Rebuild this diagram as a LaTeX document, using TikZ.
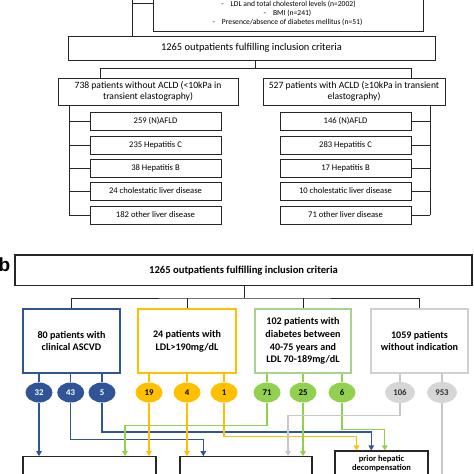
\documentclass[tikz,border=0pt]{standalone}
\usepackage{fontspec}
\setmainfont{Carlito}
\newfontfamily\blab{Liberation Sans}
\usetikzlibrary{arrows.meta,shapes.geometric}
\definecolor{cblue}{HTML}{2F5597}
\definecolor{cyel}{HTML}{FFC000}
\definecolor{cgreen}{HTML}{92D050}
\definecolor{cgreenbox}{HTML}{A9D18E}
\definecolor{cgray}{HTML}{C8C8C8}
\definecolor{cgrayfill}{HTML}{D6D6D6}
\definecolor{cgraybox}{HTML}{D0D0D0}
\tikzset{
  abox/.style={draw=black!85, line width=0.9pt, inner sep=0pt, align=center,
    font=\fontsize{8.6}{11.3}\selectfont},
  aline/.style={draw=black!85, line width=0.9pt},
  bbox/.style={line width=1.2pt, inner sep=0pt, align=center,
    font=\bfseries\fontsize{10.1}{12.8}\selectfont},
  num/.style={ellipse, minimum width=27pt, minimum height=20pt, inner sep=0pt,
    font=\bfseries\fontsize{8.8}{9}\selectfont},
  arr/.style={line width=1.1pt, -{Triangle[length=5pt,width=5.5pt]}},
  bl/.style={line width=1.1pt}
}
\begin{document}
\begin{tikzpicture}[x=1pt,y=-1pt]
\useasboundingbox (0,0) rectangle (474,474);
\clip (0,0) rectangle (474,474);
% ---------------- part a ----------------
\node[abox, minimum width=270pt, minimum height=60pt] (excl) at (288.3,1) {};
\node[font=\fontsize{7.6}{8}\selectfont] (t1) at (288.5,4.5) {-\hspace{7pt}LDL and total cholesterol levels (n=2002)};
\node[font=\fontsize{7.6}{8}\selectfont] (t2) at (287.5,13.3) {-\hspace{7pt}BMI (n=241)};
\node[font=\fontsize{7.6}{8}\selectfont] (t3) at (287.5,22.3) {-\hspace{7pt}Presence/absence of diabetes mellitus (n=51)};
\node[abox, minimum width=367pt, minimum height=24pt, font=\fontsize{10.4}{12}\selectfont] (inc) at (251.5,48) {1265 outpatients fulfilling inclusion criteria};
\coordinate (topspine) at (132.7,-5);
\draw[aline] (topspine) -- (topspine |- inc.north);
\draw[aline] (132.7,3) -- (132.7,3 -| excl.west);
\node[abox, minimum width=180pt, minimum height=27pt, font=\fontsize{9.6}{11.3}\selectfont] (noacld) at (148,91.5) {738 patients without ACLD (<10kPa in\\transient elastography)};
\node[abox, minimum width=182pt, minimum height=27pt, font=\fontsize{9.6}{11.3}\selectfont] (acld) at (354,91.5) {527 patients with ACLD (≥10kPa in transient\\elastography)};
\coordinate (split) at (255,68);
\draw[aline] (split |- inc.south) -- (split);
\draw[aline] (100,68 |- noacld.north) |- (411,68) -- (411,68 |- acld.north);
% left list
\foreach \n/\y/\t in {l1/121.3/259 (N)AFLD, l2/145/235 Hepatitis C, l3/168/38 Hepatitis B, l4/191/24 cholestatic liver disease, l5/215/182 other liver disease}{
  \node[abox, minimum width=131pt, minimum height=18pt] (\n) at (155.5,\y) {\t};
  \draw[aline] (69,\y) -- (\n.west);
}
\draw[aline] (69,0 |- noacld.south) -- (69,215);
% right list
\foreach \n/\y/\t in {r1/121.3/146 (N)AFLD, r2/145/283 Hepatitis C, r3/168/17 Hepatitis B, r4/191/10 cholestatic liver disease, r5/215/71 other liver disease}{
  \node[abox, minimum width=131pt, minimum height=18pt] (\n) at (345.5,\y) {\t};
  \draw[aline] (\n.east) -- (430,\y);
}
\draw[aline] (430,0 |- acld.south) -- (430,215);
% ---------------- part b ----------------
\node[font=\blab\bfseries\fontsize{19}{20}\selectfont, inner sep=0pt] (blabel) at (4.5,265) {b};
\node[bbox, draw=black!85, minimum width=457pt, minimum height=30.7pt, font=\bfseries\fontsize{10.6}{12}\selectfont] (incb) at (243.5,270.3) {1265 outpatients fulfilling inclusion criteria};
\node[bbox, draw=cblue, minimum width=97pt, minimum height=64pt] (bx1) at (71.5,341) {80 patients with\\clinical ASCVD};
\node[bbox, draw=cyel, minimum width=98pt, minimum height=64pt] (bx2) at (187,341) {24 patients with\\LDL>190mg/dL};
\node[bbox, draw=cgreenbox, minimum width=96pt, minimum height=64pt] (bx3) at (303,341) {102 patients with\\diabetes between\\40-75 years and\\LDL 70-189mg/dL};
\node[bbox, draw=cgraybox, minimum width=97pt, minimum height=64pt] (bx4) at (419.5,341) {1059 patients\\without indication};
\coordinate (splitb) at (244,298);
\draw[aline] (incb.south -| splitb) -- (splitb);
\draw[aline] (bx1.north) |- (splitb) -| (bx4.north);
\draw[aline] (bx2.north) -- (bx2.north |- splitb);
\draw[aline] (bx3.north) -- (bx3.north |- splitb);
% number ellipses
\foreach \n/\x/\t in {e32/39/32, e43/70.7/43, e5/102/5}{
  \node[num, fill=cblue, text=white] (\n) at (\x,392.5) {\t};
  \draw[bl, cblue] (\n.north) -- (\n.north |- bx1.south);
}
\foreach \n/\x/\t in {e19/149/19, e4/187/4, e1/224/1}{
  \node[num, fill=cyel, text=black] (\n) at (\x,392.5) {\t};
  \draw[bl, cyel] (\n.north) -- (\n.north |- bx2.south);
}
\foreach \n/\x/\t in {e71/267/71, e25/303/25, e6/342/6}{
  \node[num, fill=cgreen, text=black] (\n) at (\x,392.5) {\t};
  \draw[bl, cgreen] (\n.north) -- (\n.north |- bx3.south);
}
\foreach \n/\x/\t in {e106/400/106, e953/442/953}{
  \node[num, fill=cgrayfill, text=black!80, minimum width=30pt, minimum height=21pt] (\n) at (\x,392.5) {\t};
  \draw[bl, cgray] (\n.north) -- (\n.north |- bx4.south);
}
% target boxes
\node[draw=black!85, line width=1.1pt, minimum width=133pt, minimum height=30pt] (tA) at (89.5,471.7) {};
\node[draw=black!85, line width=1.1pt, minimum width=132pt, minimum height=30pt] (tB) at (246,471.7) {};
\node[draw=black!85, line width=1.1pt, minimum width=93pt, minimum height=30pt] (tC) at (381.5,466) {};
\node[align=center, inner sep=0pt, font=\bfseries\fontsize{8.5}{9.4}\selectfont] (tCtext) at (381.5,463.6) {prior hepatic\\decompensation};
% arrows
\draw[arr, cblue] (e32.south) -- (e32.south |- tA.north);
\draw[arr, cblue] (e43.south) |- (203.3,439.8) -- (203.3,439.8 |- tB.north);
\draw[arr, cblue] (e5.south) |- (371.3,432) -- (371.3,432 |- tC.north);
\draw[arr, cyel] (e19.south) -- (e19.south |- tA.north);
\draw[arr, cyel] (e4.south) -- (e4.south |- tB.north);
\draw[arr, cyel] (e1.south) |- (356.5,436.3) -- (356.5,436.3 |- tC.north);
\draw[arr, cgreen] (e71.south) |- (125,425.3) -- (125,425.3 |- tA.north);
\draw[arr, cgreen] (e25.south) -- (e25.south |- tB.north);
\draw[arr, cgreen] (e6.south) |- (384.8,429.8) -- (384.8,429.8 |- tC.north);
\draw[arr, cgray] (e106.south) |- (288,415.7) -- (288,415.7 |- tB.north);
\coordinate (down953) at (442,480);
\draw[bl, cgray] (e953.south) -- (down953);
\end{tikzpicture}
\end{document}
